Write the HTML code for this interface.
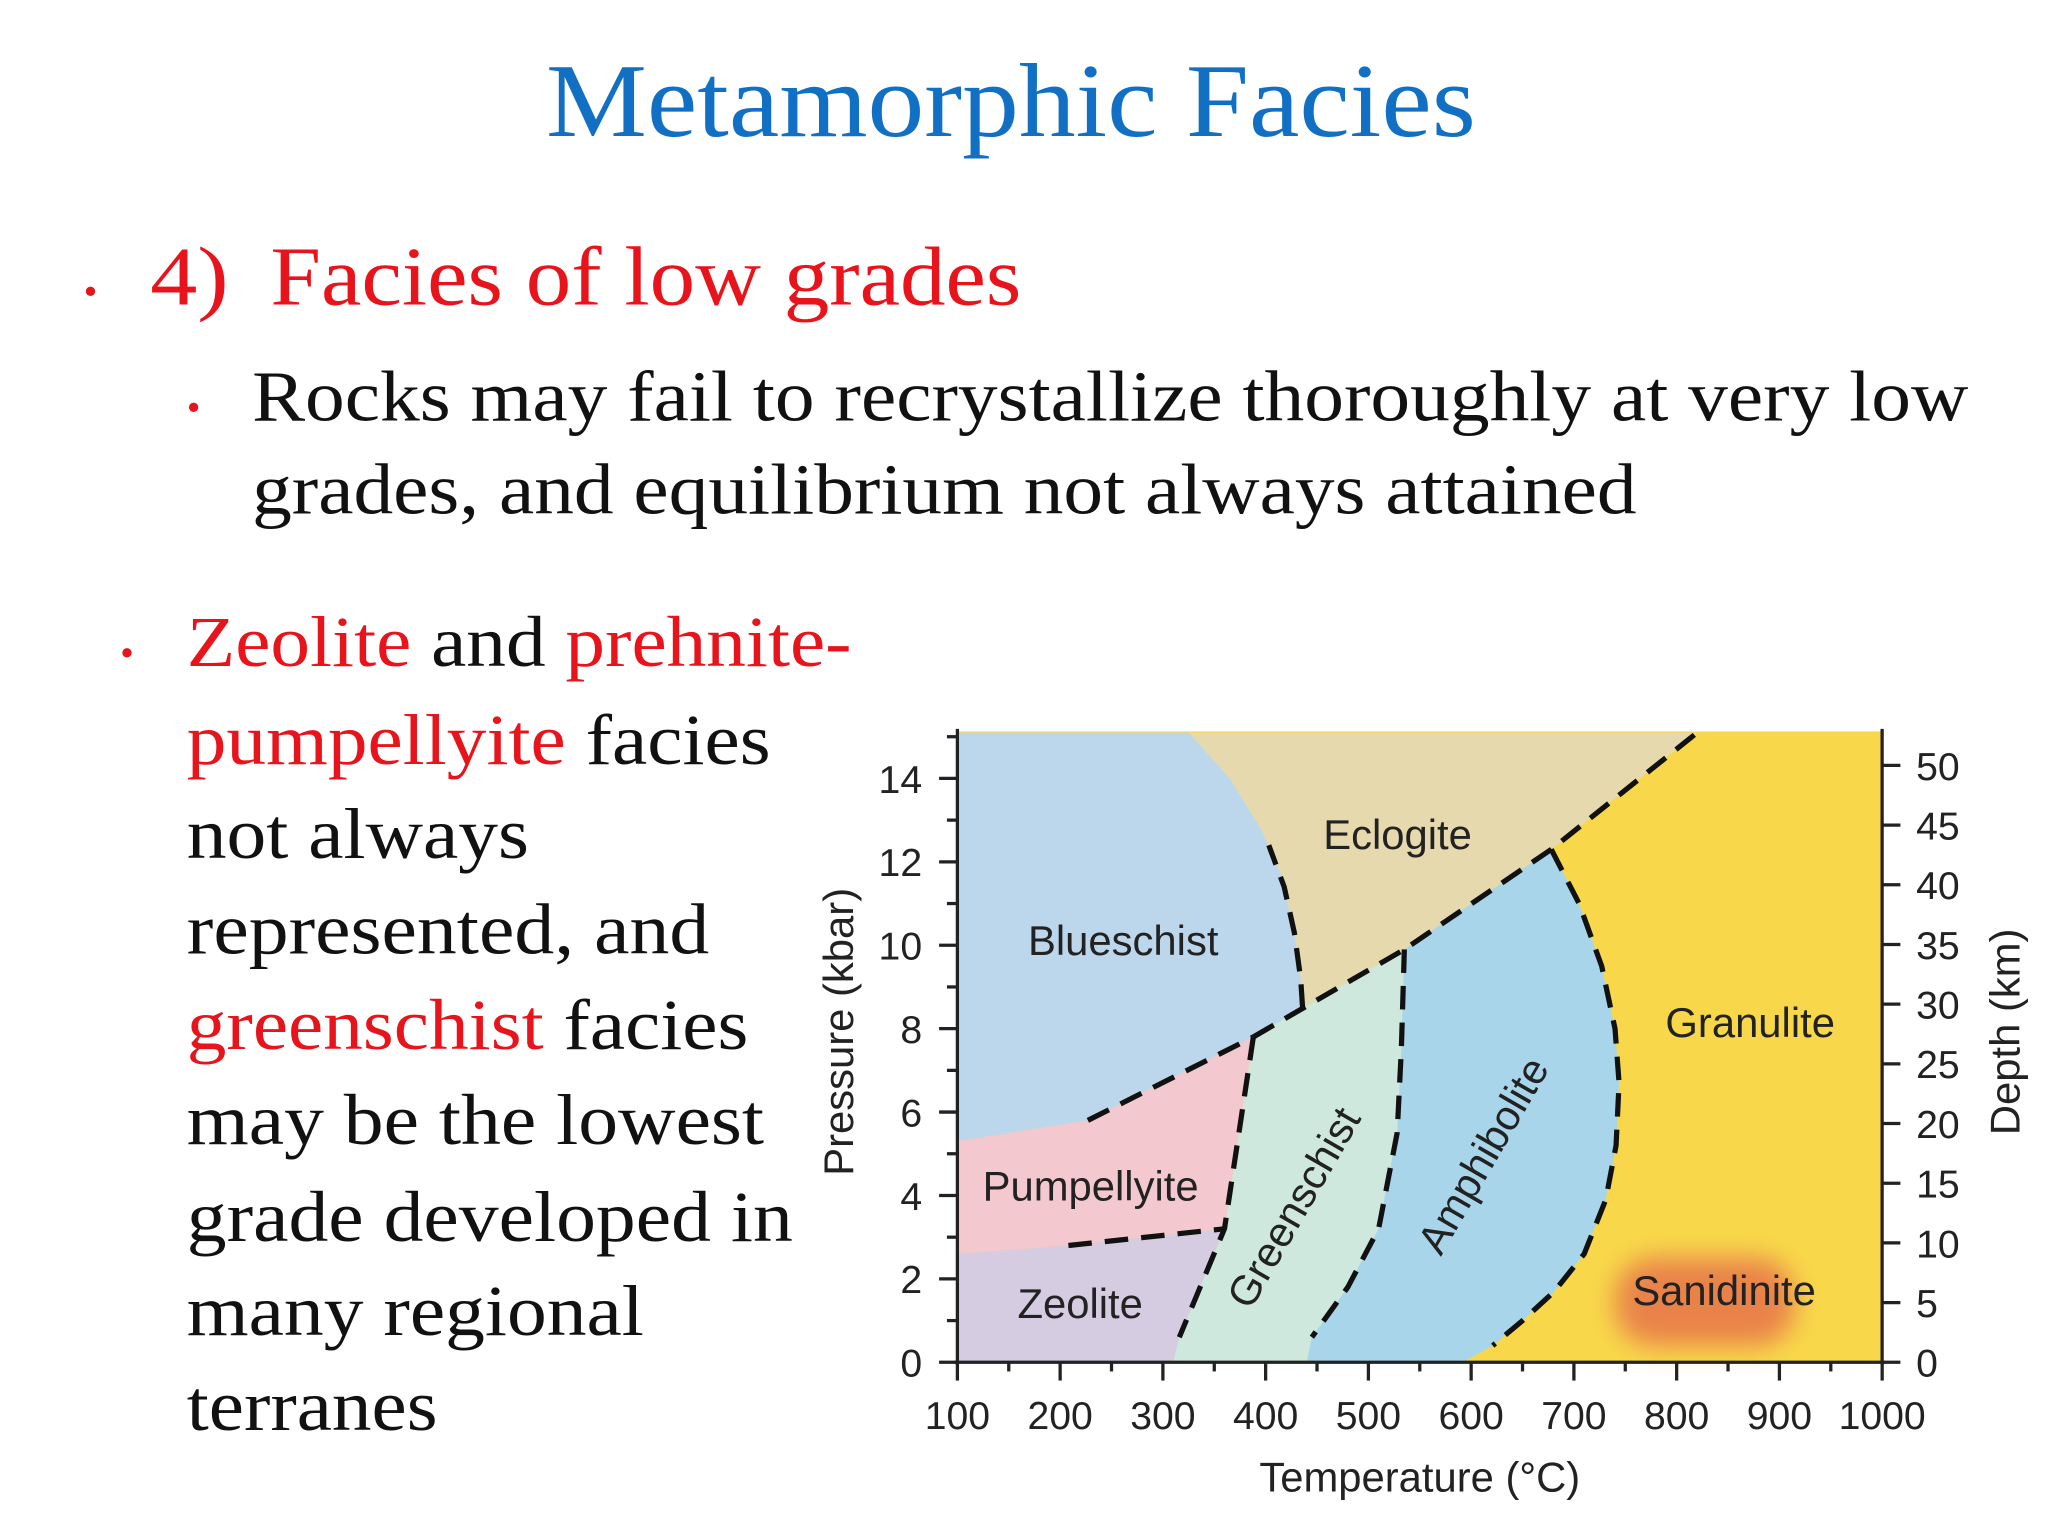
<!DOCTYPE html>
<html><head><meta charset="utf-8"><style>
html,body{margin:0;padding:0;background:#fff;}
svg{display:block;}
.ser{font-family:"Liberation Serif",serif;}
</style></head><body>
<svg id="s" width="2048" height="1536" viewBox="0 0 1568 1176" xmlns="http://www.w3.org/2000/svg">
<text class="ser" x="418" y="104" font-size="80" fill="#1170c4" textLength="712" lengthAdjust="spacingAndGlyphs">Metamorphic Facies</text>
<text class="ser" x="64" y="233" font-size="30" fill="#e8141b">•</text>
<text class="ser" x="115" y="233" font-size="64" fill="#e8141b" textLength="60" lengthAdjust="spacingAndGlyphs">4)</text>
<text class="ser" x="207" y="233" font-size="64" fill="#e8141b" textLength="575" lengthAdjust="spacingAndGlyphs">Facies of low grades</text>
<g class="ser" font-size="55" fill="#111">
<text x="143" y="322" font-size="30" fill="#e8141b">•</text>
<text x="193" y="322" textLength="1314" lengthAdjust="spacingAndGlyphs">Rocks may fail to recrystallize thoroughly at very low</text>
<text x="193" y="393" textLength="1060" lengthAdjust="spacingAndGlyphs">grades, and equilibrium not always attained</text>
</g>
<g class="ser" font-size="55" fill="#111">
<text x="92" y="510" font-size="30" fill="#e8141b">•</text>
<text x="143" y="510" textLength="509" lengthAdjust="spacingAndGlyphs"><tspan fill="#e8141b">Zeolite</tspan> and <tspan fill="#e8141b">prehnite-</tspan></text>
<text x="143" y="585" textLength="447" lengthAdjust="spacingAndGlyphs"><tspan fill="#e8141b">pumpellyite</tspan> facies</text>
<text x="143" y="657" textLength="262" lengthAdjust="spacingAndGlyphs">not always</text>
<text x="143" y="730" textLength="400" lengthAdjust="spacingAndGlyphs">represented, and</text>
<text x="143" y="803" textLength="430" lengthAdjust="spacingAndGlyphs"><tspan fill="#e8141b">greenschist</tspan> facies</text>
<text x="143" y="876" textLength="442" lengthAdjust="spacingAndGlyphs">may be the lowest</text>
<text x="143" y="950" textLength="464" lengthAdjust="spacingAndGlyphs">grade developed in</text>
<text x="143" y="1022" textLength="350" lengthAdjust="spacingAndGlyphs">many regional</text>
<text x="143" y="1095" textLength="192" lengthAdjust="spacingAndGlyphs">terranes</text>
</g>
<g id="chart"></g>
</svg>
<script>
const tempTicks=[100,200,300,400,500,600,700,800,900,1000];
const pressTicks=[0,2,4,6,8,10,12,14];
const depthTicks=[0,5,10,15,20,25,30,35,40,45,50];
const eclogiteRegion=[[100,15.1],[820,15.1],[678,12.3],[535,9.9],[388,7.8],[227,5.8],[100,5.3]];
const blueschistRegion=[[100,15.1],[325,15.1],[365,14.0],[395,12.8],[415,11.7],[428,10.3],[434,9.2],[436,8.5],[388,7.8],[227,5.8],[100,5.3]];
const amphiboliteRegion=[[535,9.9],[678,12.3],[705,11.0],[727,9.5],[740,8.0],[744,6.7],[741,5.2],[731,3.9],[710,2.6],[681,1.7],[650,1.0],[621,0.4],[592,0],[388,0],[388,7.8]];
const greenschistRegion=[[388,7.8],[535,9.9],[532,7.5],[528,5.5],[510,3.2],[480,1.8],[445,0.6],[440,0],[310,0],[316,0.6],[360,3.2]];
const pumpellyiteRegion=[[100,5.3],[227,5.8],[388,7.8],[360,3.2],[208,2.8],[100,2.6]];
const zeoliteRegion=[[100,2.6],[208,2.8],[360,3.2],[316,0.6],[310,0],[100,0]];
const dashBlueEclo=[[436,8.5],[434,9.2],[428,10.3],[418,11.4],[403,12.4]];
const dashGranulite=[[388,7.8],[535,9.9],[678,12.3],[820,15.1]];
const dashPumpTop=[[227,5.8],[388,7.8]];
const dashPumpZeo=[[208,2.8],[360,3.2]];
const dashGreenLeft=[[388,7.8],[360,3.2],[316,0.6]];
const dashGreenAmph=[[535,9.9],[532,7.5],[528,5.5],[510,3.2],[480,1.8],[445,0.6]];
const dashAmphGran=[[678,12.3],[705,11.0],[727,9.5],[740,8.0],[744,6.7],[741,5.2],[731,3.9],[710,2.6],[681,1.7],[650,1.0],[621,0.4]];
const X=t=>733+(t-100)*0.7867, Y=p=>1043-p*31.93, YD=d=>1043-d*9.14;
const NS="http://www.w3.org/2000/svg", g=document.getElementById('chart');
function mk(tag,attrs,parent){const e=document.createElementNS(NS,tag);for(const k in attrs)e.setAttribute(k,attrs[k]);(parent||g).appendChild(e);return e;}
const pts=a=>a.map(p=>X(p[0]).toFixed(1)+','+Y(p[1]).toFixed(1)).join(' ');
const defs=mk('defs',{});
const f=mk('filter',{id:'blur',x:'-50%',y:'-50%',width:'200%',height:'200%'},defs);
mk('feGaussianBlur',{stdDeviation:'10'},f);
const bg=mk('rect',{x:733,y:560,width:708,height:483,fill:'#f8d84a'});


const regions=[['eclogite-region',eclogiteRegion,'#e6d9ae'],['blueschist-region',blueschistRegion,'#bcd7ec'],['amphibolite-region',amphiboliteRegion,'#a8d5ea'],['greenschist-region',greenschistRegion,'#cfe8dd'],['pumpellyite-region',pumpellyiteRegion,'#f3c9cf'],['zeolite-region',zeoliteRegion,'#d6cce2']];
regions.forEach(r=>{const e=mk('polygon',{points:pts(r[1]),fill:r[2]});

});
const blob=mk('rect',{x:X(740),y:Y(2.5),width:X(915)-X(740),height:Y(0.4)-Y(2.5),rx:30,fill:'#e9824a',filter:'url(#blur)'});


[['blueschist-eclogite-boundary',dashBlueEclo],['granulite-boundary',dashGranulite],['pumpellyite-top-boundary',dashPumpTop],['pumpellyite-zeolite-boundary',dashPumpZeo],['greenschist-left-boundary',dashGreenLeft],['greenschist-amphibolite-boundary',dashGreenAmph],['amphibolite-granulite-boundary',dashAmphGran]].forEach(d=>{
const e=mk('polyline',{points:pts(d[1]),fill:'none',stroke:'#111','stroke-width':4,'stroke-dasharray':'18 10','stroke-linejoin':'round'});

});
const ax={stroke:'#222','stroke-width':2.5};
let e;
e=mk('line',Object.assign({x1:733,y1:558,x2:733,y2:1045},ax));
e=mk('line',Object.assign({x1:731,y1:1043,x2:1443,y2:1043},ax));
e=mk('line',Object.assign({x1:1441,y1:558,x2:1441,y2:1045},ax));
function txt(s,x,y,attrs,name){const t=mk('text',Object.assign({x:x,y:y,'font-family':'Liberation Sans, sans-serif','font-size':30,fill:'#222'},attrs||{}));t.textContent=s;

return t;}
for(let p=0;p<=15;p++){mk('line',Object.assign({x1:733-(p%2?8:14),y1:Y(p),x2:733,y2:Y(p)},ax));}
pressTicks.forEach(p=>txt(String(p),706,Y(p)+11,{'text-anchor':'end'},'pressure-tick-label'));
tempTicks.forEach(t=>{mk('line',Object.assign({x1:X(t),y1:1043,x2:X(t),y2:1057},ax));txt(String(t),X(t),1094,{'text-anchor':'middle'},'temperature-tick-label');});
tempTicks.slice(0,-1).forEach(t=>mk('line',Object.assign({x1:X(t+50),y1:1043,x2:X(t+50),y2:1050},ax)));
depthTicks.forEach(d=>{mk('line',Object.assign({x1:1441,y1:YD(d),x2:1455,y2:YD(d)},ax));txt(String(d),1467,YD(d)+11,{},'depth-tick-label');});
txt('Pressure (kbar)',0,0,{transform:'translate(653,790) rotate(-90)','text-anchor':'middle','font-size':32},'pressure-axis-title');
txt('Depth (km)',0,0,{transform:'translate(1546,790) rotate(-90)','text-anchor':'middle','font-size':32},'depth-axis-title');
txt('Temperature (°C)',1087,1142,{'text-anchor':'middle','font-size':32},'temperature-axis-title');
txt('Blueschist',860,731,{'text-anchor':'middle','font-size':32},'blueschist-label');
txt('Eclogite',1070,650,{'text-anchor':'middle','font-size':32},'eclogite-label');
txt('Granulite',1340,794,{'text-anchor':'middle','font-size':32},'granulite-label');
txt('Pumpellyite',835,919,{'text-anchor':'middle','font-size':32},'pumpellyite-label');
txt('Zeolite',827,1009,{'text-anchor':'middle','font-size':32},'zeolite-label');
txt('Sanidinite',1320,999,{'text-anchor':'middle','font-size':32},'sanidinite-label');
txt('Greenschist',0,0,{transform:'translate(1000,930) rotate(-60)','text-anchor':'middle','font-size':32},'greenschist-label');
txt('Amphibolite',0,0,{transform:'translate(1145,890) rotate(-60)','text-anchor':'middle','font-size':32},'amphibolite-label');
</script>
</body></html>
